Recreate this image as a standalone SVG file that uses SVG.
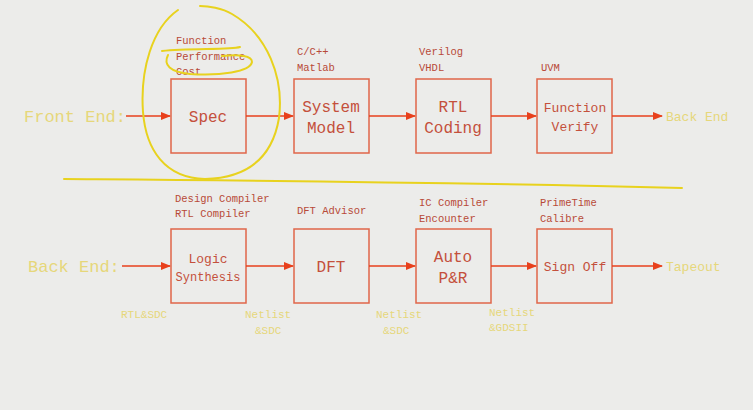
<svg xmlns="http://www.w3.org/2000/svg" width="753" height="410" viewBox="0 0 753 410">
<style>
.box{fill:none;stroke:#e0664a;stroke-width:1.5}
.bt{font-family:"Liberation Mono",monospace;font-size:16px;fill:#c4503c;text-anchor:middle}
.sm{font-size:13px}
.xs{font-size:12px}
.lb{font-family:"Liberation Mono",monospace;font-size:10.5px;fill:#b84a38}
.yl{font-family:"Liberation Mono",monospace;fill:#e6d77a}
.yn{font-family:"Liberation Mono",monospace;font-size:11px;fill:#e6d77a}
.ar{stroke:#e8401c;stroke-width:1.5;fill:none;marker-end:url(#a)}
.hd{fill:none;stroke:#e8d21e;stroke-width:2;stroke-linecap:round}
</style>
<defs><marker id="a" markerWidth="10" markerHeight="8" refX="9" refY="4" orient="auto" markerUnits="userSpaceOnUse"><path d="M0,0L10,4L0,8z" fill="#e8401c"/></marker></defs>
<rect width="753" height="410" fill="#ececea"/>
<text class="yl" x="24" y="122" style="font-size:17px">Front End:</text>
<text class="yl" x="28" y="272" style="font-size:17px">Back End:</text>
<text class="yl" x="666" y="121" style="font-size:13px">Back End</text>
<text class="yl" x="666" y="271" style="font-size:13px">Tapeout</text>
<g id="spec"><rect class="box" x="171" y="79" width="75" height="74"/><text class="bt" x="208" y="122">Spec</text></g>
<g id="sysmodel"><rect class="box" x="294" y="79" width="75" height="74"/><text class="bt" x="331" y="112">System</text><text class="bt" x="331" y="133">Model</text></g>
<g id="rtl"><rect class="box" x="416" y="79" width="75" height="74"/><text class="bt" x="453" y="112">RTL</text><text class="bt" x="453" y="133">Coding</text></g>
<g id="fv"><rect class="box" x="537" y="79" width="75" height="74"/><text class="bt sm" x="575" y="112">Function</text><text class="bt sm" x="575" y="131">Verify</text></g>
<g id="ls"><rect class="box" x="171" y="229" width="75" height="74"/><text class="bt sm" x="208" y="263">Logic</text><text class="bt xs" x="208" y="281">Synthesis</text></g>
<g id="dft"><rect class="box" x="294" y="229" width="75" height="74"/><text class="bt" x="331" y="272">DFT</text></g>
<g id="apr"><rect class="box" x="416" y="229" width="75" height="74"/><text class="bt" x="453" y="262">Auto</text><text class="bt" x="453" y="283">P&amp;R</text></g>
<g id="so"><rect class="box" x="537" y="229" width="75" height="74"/><text class="bt sm" x="575" y="271">Sign Off</text></g>
<text class="lb" x="176" y="44">Function</text><text class="lb" x="176" y="60">Performance</text><text class="lb" x="176" y="75">Cost</text>
<text class="lb" x="297" y="55">C/C++</text><text class="lb" x="297" y="71">Matlab</text>
<text class="lb" x="419" y="55">Verilog</text><text class="lb" x="419" y="71">VHDL</text>
<text class="lb" x="541" y="71">UVM</text>
<text class="lb" x="175" y="202">Design Compiler</text><text class="lb" x="175" y="217">RTL Compiler</text>
<text class="lb" x="297" y="214">DFT Advisor</text>
<text class="lb" x="419" y="206">IC Compiler</text><text class="lb" x="419" y="222">Encounter</text>
<text class="lb" x="540" y="206">PrimeTime</text><text class="lb" x="540" y="222">Calibre</text>
<text class="yn" x="121" y="318">RTL&amp;SDC</text>
<text class="yn" x="245" y="318">Netlist</text><text class="yn" x="255" y="334">&amp;SDC</text>
<text class="yn" x="376" y="318">Netlist</text><text class="yn" x="383" y="334">&amp;SDC</text>
<text class="yn" x="489" y="316">Netlist</text><text class="yn" x="489" y="331">&amp;GDSII</text>
<g id="connectors">
<path class="ar" d="M126,116H170"/><path class="ar" d="M246,116H293"/><path class="ar" d="M369,116H415"/><path class="ar" d="M491,116H536"/><path class="ar" d="M612,116H662"/>
<path class="ar" d="M122,266H170"/><path class="ar" d="M246,266H293"/><path class="ar" d="M369,266H415"/><path class="ar" d="M491,266H536"/><path class="ar" d="M612,266H662"/>
</g>
<path class="hd" d="M178,10C152,28 140,70 143,112C146,150 165,178 205,179C245,178 272,160 279,118C284,78 268,35 232,14C222,8 208,6 200,6"/>
<path class="hd" d="M162,51C190,48 230,50 240,47M168,55C163,65 170,72 190,74C220,76 250,72 252,62C252,56 240,54 222,56"/>
<path class="hd" d="M64,179C200,180 400,181 682,188"/>
</svg>
